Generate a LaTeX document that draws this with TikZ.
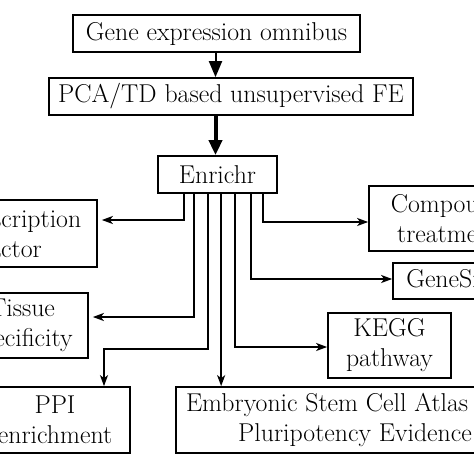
\documentclass[tikz,border=0pt]{standalone}
\usetikzlibrary{arrows.meta}
\newcommand\bxfont{\fontsize{25.8}{30}\selectfont}
\begin{document}
\begin{tikzpicture}[x=1pt,y=-1pt,
  box/.style={draw, line width=1.7pt, inner sep=0pt, align=center, font=\bxfont},
  mainA/.style={line width=2pt, -{Triangle[length=16pt,width=13pt]}},
  mainB/.style={line width=4pt, -{Triangle[length=15pt,width=13pt]}},
  conn/.style={line width=1.8pt, -{Stealth[length=11pt,width=8pt,inset=3pt]}},
  connL/.style={conn, shorten >=4pt}]
\clip (0,0) rectangle (474,474);
\fill[white] (0,0) rectangle (474,474);
\node[box, minimum width=287pt, minimum height=37pt] (geo) at (216.5,33.5) {Gene expression omnibus};
\node[box, minimum width=364pt, minimum height=37pt] (pca) at (231,96.5) {PCA/TD based unsupervised FE};
\node[box, minimum width=119pt, minimum height=37pt] (enr) at (217.5,174.5) {Enrichr};
\node[box, minimum width=170pt, minimum height=67pt] (tf) at (12,233.5) {Transcription\\factor};
\node[box, minimum width=132pt, minimum height=65pt] (tis) at (22,325.5) {Tissue\\specificity};
\node[box, minimum width=150pt, minimum height=66pt] (ppi) at (55,420) {PPI\\enrichment};
\node[box, minimum width=358pt, minimum height=66pt] (emb) at (355,420) {Embryonic Stem Cell Atlas from\\Pluripotency Evidence};
\node[box, minimum width=123pt, minimum height=65pt] (kegg) at (389.5,345.5) {KEGG\\pathway};
\node[box, minimum width=146pt, minimum height=36pt] (gs) at (466,281) {GeneSigDB};
\node[box, minimum width=158pt, minimum height=65pt] (cmp) at (448,218.5) {Compound\\treatment};
\draw[mainA] ([xshift=-2pt]enr.north |- geo.south) -- ([xshift=-2pt]enr.north |- pca.north);
\draw[mainB] ([xshift=-2pt]enr.north |- pca.south) -- ([xshift=-2pt]enr.north);
\draw[connL] ([xshift=27pt]enr.south west) |- ([yshift=13.5pt]tf.east);
\draw[connL] ([xshift=37pt]enr.south west) |- ([yshift=8.5pt]tis.east);
\draw[conn] ([xshift=51pt]enr.south west) -- ++(0,155) -| ([xshift=49pt]ppi.north);
\draw[conn] ([xshift=64pt]enr.south west) -- ([xshift=64pt]enr.south west |- emb.north);
\draw[conn] ([xshift=78pt]enr.south west) |- ([yshift=-1.5pt]kegg.west);
\draw[conn] ([xshift=94pt]enr.south west) |- ([yshift=2pt]gs.west);
\draw[conn] ([xshift=106pt]enr.south west) |- ([yshift=-3.5pt]cmp.west);
\end{tikzpicture}
\end{document}
